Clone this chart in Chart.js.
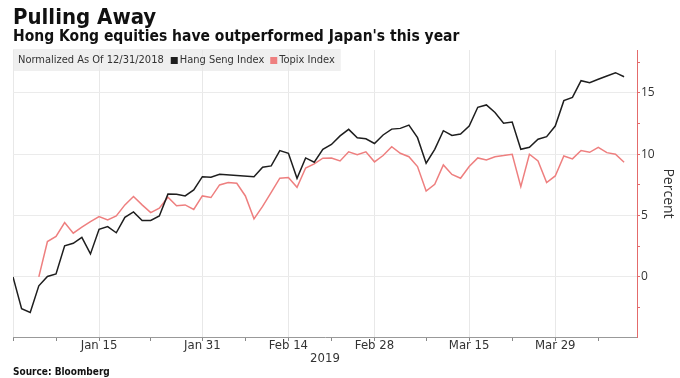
<!DOCTYPE html>
<html lang="en">
  <head>
    <meta charset="UTF-8" />
    <title>Pulling Away</title>
    <script src="https://cdn.jsdelivr.net/npm/chart.js"></script>
    <style>
      html, body { margin: 0; padding: 0; background: #fff; }
    </style>
  </head>
  <body>
    <canvas id="chart" width="680" height="378"></canvas>

    <script>
      // trading days (union of HK and Tokyo), Dec 31 2018 .. Apr 10 2019
      const dates = [
        "Dec 31",
        "Jan 2", "Jan 3", "Jan 4", "Jan 7", "Jan 8", "Jan 9", "Jan 10", "Jan 11",
        "Jan 14", "Jan 15", "Jan 16", "Jan 17", "Jan 18", "Jan 21", "Jan 22", "Jan 23",
        "Jan 24", "Jan 25", "Jan 28", "Jan 29", "Jan 30", "Jan 31",
        "Feb 1", "Feb 4", "Feb 5", "Feb 6", "Feb 7", "Feb 8", "Feb 11", "Feb 12",
        "Feb 13", "Feb 14", "Feb 15", "Feb 18", "Feb 19", "Feb 20", "Feb 21", "Feb 22",
        "Feb 25", "Feb 26", "Feb 27", "Feb 28",
        "Mar 1", "Mar 4", "Mar 5", "Mar 6", "Mar 7", "Mar 8", "Mar 11", "Mar 12",
        "Mar 13", "Mar 14", "Mar 15", "Mar 18", "Mar 19", "Mar 20", "Mar 21", "Mar 22",
        "Mar 25", "Mar 26", "Mar 27", "Mar 28", "Mar 29",
        "Apr 1", "Apr 2", "Apr 3", "Apr 4", "Apr 5", "Apr 8", "Apr 9", "Apr 10"
      ];

      const hangSeng = [
        0, -2.6, -2.9, -0.73, 0.03, 0.24, 2.53, 2.74, 3.23, 1.87,
        3.88, 4.1, 3.6, 4.86, 5.3, 4.6, 4.6, 4.97, 6.75, 6.74,
        6.6, 7.09, 8.17, 8.12, 8.37, null, null, null, 8.17, 8.94,
        9.05, 10.3, 10.08, 8.04, 9.7, 9.35, 10.4, 10.8, 11.5, 12.03,
        11.35, 11.26, 10.88, 11.57, 12.05, 12.11, 12.38, 11.35, 9.27, 10.4,
        11.92, 11.53, 11.65, 12.3, 13.83, 14.02, 13.4, 12.53, 12.63, 10.4,
        10.57, 11.22, 11.43, 12.3, 14.37, 14.64, 16.0, 15.84, 16.11, 16.38,
        16.65, 16.32
      ];

      const topix = [
        null, null, null, 0, 2.88, 3.3, 4.43, 3.56, 4.05, 4.5,
        4.92, 4.65, 4.97, 5.87, 6.55, 5.87, 5.24, 5.6, 6.5, 5.8,
        5.87, 5.5, 6.6, 6.47, 7.5, 7.69, 7.63, 6.6, 4.73, 5.75,
        6.9, 8.05, 8.1, 7.3, 8.88, 9.22, 9.68, 9.7, 9.45, 10.2,
        9.97, 10.2, 9.38, 9.9, 10.61, 10.08, 9.8, 9.0, 7.0, 7.55,
        9.13, 8.35, 8.04, 9.0, 9.7, 9.54, 9.8, 9.89, 10.0, 7.36,
        10.0, 9.45, 7.69, 8.23, 9.86, 9.62, 10.3, 10.16, 10.57, 10.13,
        10.0, 9.35
      ];

      const labelDates = ["Jan 15", "Jan 31", "Feb 14", "Feb 28", "Mar 15", "Mar 29"];
      const minorDates = ["Dec 31", "Jan 8", "Jan 23", "Feb 7", "Feb 21", "Mar 8", "Mar 22", "Apr 5"];
      const yLabels = [0, 5, 10, 15];
      const yMinor = [-2.5, 2.5, 7.5, 12.5, 17.5];

      const labelIdx = labelDates.map((d) => dates.indexOf(d));
      const tickIdx = labelIdx
        .concat(minorDates.map((d) => dates.indexOf(d)))
        .sort((a, b) => a - b);

      const narrow = '"Liberation Sans Narrow", "DejaVu Sans Condensed", sans-serif';
      const heavy = '"DejaVu Sans Condensed", "DejaVu Sans", sans-serif';
      const legendNote = "Normalized As Of 12/31/2018";

      function legendItems(ctx, datasets) {
        ctx.font = "11px " + narrow;
        const items = [];
        let x = 18;
        items.push({ text: legendNote, x: x });
        x += ctx.measureText(legendNote).width + 7;
        datasets.forEach((ds) => {
          items.push({ swatch: ds.borderColor, x: x });
          x += 9;
          items.push({ text: ds.label, x: x });
          x += ctx.measureText(ds.label).width + 6;
        });
        return { items, end: x };
      }

      const decor = {
        id: "decor",
        beforeDraw(chart) {
          const ctx = chart.ctx;
          ctx.save();
          const lg = legendItems(ctx, chart.data.datasets);
          ctx.fillStyle = "#efefef";
          ctx.fillRect(13, 49, lg.end - 13, 22);
          ctx.restore();
        },
        afterDraw(chart) {
          const ctx = chart.ctx;
          ctx.save();
          ctx.fillStyle = "#111";
          ctx.textBaseline = "alphabetic";
          ctx.font = "bold 22px " + heavy;
          ctx.fillText("Pulling Away", 13, 24);
          ctx.font = "bold 15.5px " + heavy;
          ctx.fillText("Hong Kong equities have outperformed Japan's this year", 13, 41);
          ctx.font = "bold 10px " + heavy;
          ctx.fillText("Source: Bloomberg", 13, 375);

          const lg = legendItems(ctx, chart.data.datasets);
          ctx.textBaseline = "middle";
          lg.items.forEach((it) => {
            if (it.swatch) {
              ctx.fillStyle = it.swatch;
              ctx.fillRect(it.x, 57, 7, 7);
            } else {
              ctx.fillStyle = "#333";
              ctx.fillText(it.text, it.x, 60.5);
            }
          });
          ctx.restore();
        },
      };

      new Chart(document.getElementById("chart"), {
        type: "line",
        data: {
          datasets: [
            {
              label: "Hang Seng Index",
              data: hangSeng.map((v, i) => ({ x: i, y: v })),
              borderColor: "#1e1e1e",
              borderWidth: 1.5,
              pointRadius: 0,
              tension: 0,
              spanGaps: true,
            },
            {
              label: "Topix Index",
              data: topix.map((v, i) => ({ x: i, y: v })),
              borderColor: "#ee7f7f",
              borderWidth: 1.5,
              pointRadius: 0,
              tension: 0,
              spanGaps: true,
            },
          ],
        },
        options: {
          responsive: false,
          animation: false,
          layout: { padding: { left: 13, top: 50, right: 0, bottom: 0 } },
          plugins: {
            legend: { display: false },
            tooltip: { enabled: false },
          },
          scales: {
            x: {
              type: "linear",
              min: 0,
              max: 72.5,
              afterBuildTicks: (s) => {
                s.ticks = tickIdx.map((v) => ({ value: v }));
              },
              afterFit: (s) => {
                s.height = 41;
              },
              grid: {
                color: (c) =>
                  c.tick && (labelIdx.includes(c.tick.value) || c.tick.value === 0)
                    ? "#e8e8e8"
                    : "rgba(0,0,0,0)",
                tickColor: "#888",
                tickLength: 4,
              },
              border: { color: "#999" },
              ticks: {
                autoSkip: false,
                maxRotation: 0,
                padding: -3,
                color: "#333",
                font: { family: narrow, size: 13 },
                callback: (v) => (labelIdx.includes(v) ? dates[v] : ""),
              },
              title: {
                display: true,
                text: "2019",
                color: "#333",
                font: { family: narrow, size: 13 },
                padding: { top: 0, bottom: 12 },
              },
            },
            y: {
              position: "right",
              min: -4.9,
              max: 18.5,
              afterBuildTicks: (s) => {
                s.ticks = yLabels
                  .concat(yMinor)
                  .sort((a, b) => a - b)
                  .map((v) => ({ value: v }));
              },
              afterFit: (s) => {
                s.width = 43;
              },
              grid: {
                color: (c) =>
                  c.tick && yLabels.includes(c.tick.value) ? "#ebebeb" : "rgba(0,0,0,0)",
                tickColor: "#e46b6b",
                tickLength: 3,
              },
              border: { color: "#e46b6b" },
              ticks: {
                padding: 1,
                color: "#333",
                font: { family: '"Open Sans", sans-serif', size: 12 },
                callback: (v) => (yLabels.includes(v) ? String(v) : ""),
              },
              title: {
                display: true,
                text: "Percent",
                color: "#333",
                font: { family: '"Open Sans", sans-serif', size: 14 },
                padding: { top: 4, bottom: 0 },
              },
            },
          },
        },
        plugins: [decor],
      });
    </script>
  </body>
</html>
